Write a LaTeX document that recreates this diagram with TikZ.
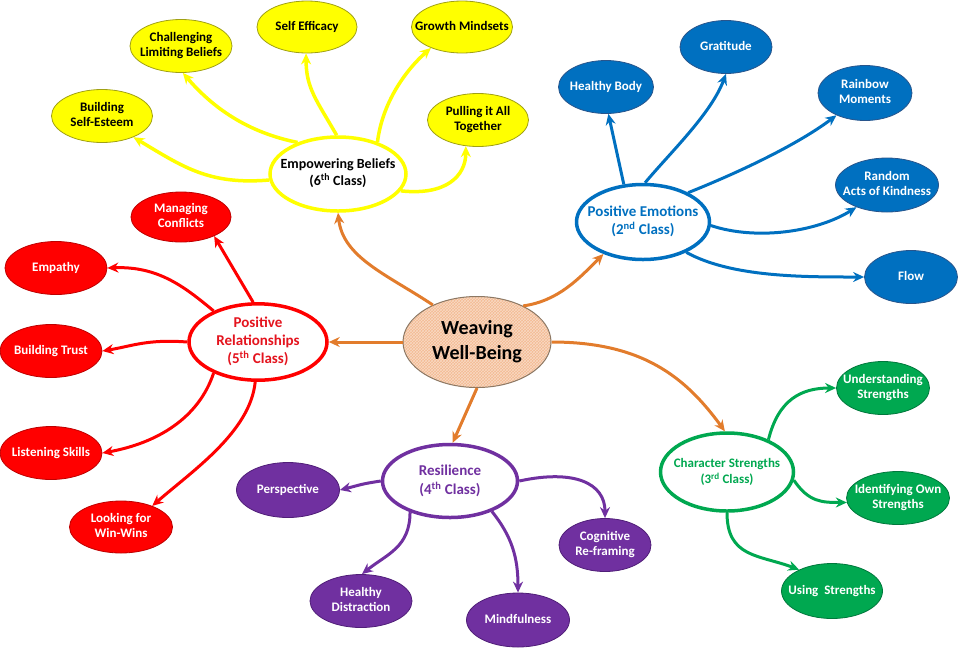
\documentclass[tikz,border=0pt]{standalone}
\usepackage{fontspec}
\setmainfont{Carlito}
\usetikzlibrary{shapes.geometric,arrows.meta,patterns}

\definecolor{cOrange}{RGB}{226,124,44}
\definecolor{cYellow}{RGB}{255,255,0}
\definecolor{cYellowD}{RGB}{160,160,20}
\definecolor{cBlue}{RGB}{0,112,192}
\definecolor{cBlueD}{RGB}{40,85,140}
\definecolor{cRed}{RGB}{255,0,0}
\definecolor{cRedD}{RGB}{190,0,0}
\definecolor{cRedT}{RGB}{228,20,30}
\definecolor{cPurple}{RGB}{112,48,160}
\definecolor{cPurpleD}{RGB}{80,30,120}
\definecolor{cGreen}{RGB}{0,168,80}
\definecolor{cGreenD}{RGB}{0,120,60}
\definecolor{cPeach}{RGB}{243,186,146}
\definecolor{cPeachB}{RGB}{140,120,100}

\newcommand{\ztx}[1]{\makebox[0pt]{\begin{tabular}{@{}c@{}}#1\end{tabular}}}

\begin{document}
\begin{tikzpicture}[x=1pt,y=-1pt,
  leaf/.style={ellipse, inner sep=0pt, minimum width=102pt, minimum height=53pt,
    line width=0.8pt, font=\fontsize{13}{15.5}\selectfont\bfseries},
  yleaf/.style={leaf, fill=cYellow, draw=cYellowD, text=black},
  bleaf/.style={leaf, fill=cBlue, draw=cBlueD, text=white},
  rleaf/.style={leaf, fill=cRed, draw=cRedD, text=white},
  pleaf/.style={leaf, fill=cPurple, draw=cPurpleD, text=white},
  gleaf/.style={leaf, fill=cGreen, draw=cGreenD, text=white},
  hub/.style={ellipse, inner sep=0pt, fill=white, line width=3.5pt,
    minimum width=135pt, minimum height=75pt},
  link/.style={line width=3pt, -{Stealth[length=11pt,width=10pt]}},
]
\useasboundingbox (0,0) rectangle (960,649);

% centre
\node[ellipse, inner sep=0pt, minimum width=148pt, minimum height=91pt,
  draw=cPeachB, line width=1pt, preaction={fill=cPeach},
  pattern=crosshatch, pattern color=white!45!cPeach,
  font=\fontsize{20}{25}\selectfont\bfseries] (C) at (477,342) {\ztx{Weaving\\Well-Being}};

% hubs
\node[hub, draw=cYellow, text=black, minimum width=136pt, minimum height=74pt,
  font=\fontsize{14}{16.5}\selectfont\bfseries] (E) at (338,174)
  {\ztx{Empowering Beliefs\\(6\textsuperscript{th} Class)}};
\node[hub, draw=cBlue, text=cBlue, minimum width=133pt, minimum height=75pt,
  font=\fontsize{15}{18}\selectfont\bfseries] (PE) at (643,222)
  {\ztx{Positive Emotions\\(2\textsuperscript{nd} Class)}};
\node[hub, draw=cRed, text=cRedT, minimum width=138pt, minimum height=76pt,
  font=\fontsize{15}{18}\selectfont\bfseries] (PR) at (258,342)
  {\ztx{Positive\\Relationships\\(5\textsuperscript{th} Class)}};
\node[hub, draw=cPurple, text=cPurple, minimum width=135pt, minimum height=73pt,
  font=\fontsize{15}{19}\selectfont\bfseries] (R) at (450,481)
  {\ztx{Resilience\\(4\textsuperscript{th} Class)}};
\node[hub, draw=cGreen, text=cGreen, minimum width=133pt, minimum height=78pt,
  font=\fontsize{13}{16.5}\selectfont\bfseries] (CS) at (727,472)
  {\ztx{Character Strengths\\(3\textsuperscript{rd} Class)}};

% yellow leaves
\node[yleaf, minimum width=101pt] (BS) at (102,116) {\ztx{Building\\Self-Esteem}};
\node[yleaf] (CL) at (181,46) {\ztx{Challenging\\Limiting Beliefs}};
\node[yleaf, minimum width=100pt, minimum height=52pt] (SE) at (307,27) {\ztx{Self Efficacy}};
\node[yleaf, minimum width=101pt, minimum height=52pt] (GM) at (462,27) {\ztx{Growth Mindsets}};
\node[yleaf, minimum width=101pt] (PA) at (478,120) {\ztx{Pulling it All\\Together}};

% blue leaves
\node[bleaf, minimum width=95pt] (HB) at (606,87) {\ztx{Healthy Body}};
\node[bleaf, minimum width=92pt] (GR) at (726,47) {\ztx{Gratitude}};
\node[bleaf, minimum width=94pt, minimum height=55pt] (RM) at (865,93) {\ztx{Rainbow\\Moments}};
\node[bleaf, minimum width=103pt, minimum height=54pt] (RA) at (887,185) {\ztx{Random\\Acts of Kindness}};
\node[bleaf, minimum width=93pt] (FL) at (911,277) {\ztx{Flow}};

% red leaves
\node[rleaf, minimum width=100pt, minimum height=50pt] (MC) at (181,217) {\ztx{Managing\\Conflicts}};
\node[rleaf] (EM) at (56,268) {\ztx{Empathy}};
\node[rleaf] (BT) at (51,351) {\ztx{Building Trust}};
\node[rleaf] (LS) at (51,453) {\ztx{Listening Skills}};
\node[rleaf, minimum width=103pt, minimum height=52pt] (LW) at (121,527) {\ztx{Looking for\\Win-Wins}};

% purple leaves
\node[pleaf, minimum width=103pt, minimum height=55pt] (PS) at (288,490) {\ztx{Perspective}};
\node[pleaf] (HD) at (361,601) {\ztx{Healthy\\Distraction}};
\node[pleaf, minimum width=103pt, minimum height=54pt] (MF) at (518,620) {\ztx{Mindfulness}};
\node[pleaf, minimum width=92pt] (CR) at (605,545) {\ztx{Cognitive\\Re-framing}};

% green leaves
\node[gleaf, minimum width=93pt] (US) at (883,388) {\ztx{Understanding\\Strengths}};
\node[gleaf, minimum width=103pt] (IO) at (898,498) {\ztx{Identifying Own\\Strengths}};
\node[gleaf, minimum width=101pt, minimum height=55pt] (UseS) at (832,591) {\ztx{Using~~Strengths}};

% orange links
\draw[link, cOrange] (C.140) .. controls +(-45,-30) and +(5,45) .. (E.south);
\draw[link, cOrange] (C.west) -- (PR.east);
\draw[link, cOrange] (C.38) .. controls +(35,-5) and +(-25,25) .. (PE.219);
\draw[link, cOrange] (C.south) -- (R.86);
\draw[link, cOrange] (C.east) .. controls +(90,0) and +(-40,-55) .. (CS.93);

% yellow links
\draw[link, cYellow, line width=3.5pt] (E.185) .. controls +(-60,5) and +(50,30) .. (BS.-34);
\draw[link, cYellow, line width=3.5pt] (E.142) .. controls +(-50,-10) and +(30,35) .. (CL.-86);
\draw[link, cYellow, line width=3.5pt] (E.92) .. controls +(-20,-35) and +(0,35) .. (SE.-92);
\draw[link, cYellow, line width=3.5pt] (E.39) .. controls +(5,-40) and +(-25,22) .. (GM.214);
\draw[link, cYellow, line width=3.5pt] (E.-15) .. controls +(45,5) and +(0,30) .. (PA.-115);

% blue links
\draw[link, cBlue] (PE.117) -- (HB.-85);
\draw[link, cBlue] (PE.87) .. controls +(25,-30) and +(-15,40) .. (GR.south);
\draw[link, cBlue] (PE.33) .. controls +(50,-20) and +(-40,30) .. (RM.218);
\draw[link, cBlue] (PE.-3) .. controls +(45,15) and +(-40,25) .. (RA.216);
\draw[link, cBlue] (PE.-35) .. controls +(45,25) and +(-60,0) .. (FL.west);

% red links
\draw[link, cRed] (PR.97) -- (MC.-30);
\draw[link, cRed] (PR.145) .. controls +(-30,-25) and +(50,-2) .. (EM.east);
\draw[link, cRed] (PR.west) .. controls +(-40,-3) and +(30,-5) .. (BT.east);
\draw[link, cRed] (PR.215) .. controls +(-15,45) and +(55,-10) .. (LS.east);
\draw[link, cRed] (PR.266) .. controls +(-5,50) and +(40,-35) .. (LW.34);

% purple links
\draw[link, cPurple] (R.west) .. controls +(-20,3) and +(20,-5) .. (PS.east);
\draw[link, cPurple] (R.218) .. controls +(0,35) and +(25,-20) .. (HD.88);
\draw[link, cPurple] (R.-36) .. controls +(20,25) and +(0,-35) .. (MF.north);
\draw[link, cPurple] (R.east) .. controls +(55,-12) and +(0,-35) .. (CR.north);

% green links
\draw[link, cGreen] (CS.38) .. controls +(10,-40) and +(-35,0) .. (US.west);
\draw[link, cGreen] (CS.-7) .. controls +(15,22) and +(-25,0) .. (IO.185);
\draw[link, cGreen] (CS.south) .. controls +(0,45) and +(-40,-15) .. (UseS.147);
\end{tikzpicture}
\end{document}
